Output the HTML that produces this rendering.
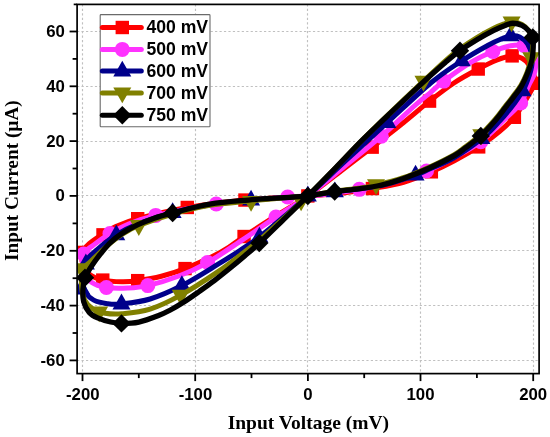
<!DOCTYPE html><html><head><meta charset="utf-8"><title>IV</title><style>html,body{margin:0;padding:0;background:#fff}svg{display:block}text{font-family:"Liberation Sans",sans-serif;font-weight:bold;fill:#000}.ser{font-family:"Liberation Serif",serif;font-weight:bold}</style></head><body>
<svg width="550" height="437" viewBox="0 0 550 437">
<rect width="550" height="437" fill="#fff"/>
<g stroke="#c0c0c0" stroke-width="1.15" stroke-dasharray="2.2,2.25" fill="none"><line x1="82.5" y1="4.4" x2="82.5" y2="373.6"/><line x1="195.5" y1="4.4" x2="195.5" y2="373.6"/><line x1="307.5" y1="4.4" x2="307.5" y2="373.6"/><line x1="420.5" y1="4.4" x2="420.5" y2="373.6"/><line x1="533.5" y1="4.4" x2="533.5" y2="373.6"/><line x1="77.1" y1="360.5" x2="539.1" y2="360.5"/><line x1="77.1" y1="305.5" x2="539.1" y2="305.5"/><line x1="77.1" y1="250.5" x2="539.1" y2="250.5"/><line x1="77.1" y1="195.5" x2="539.1" y2="195.5"/><line x1="77.1" y1="141.5" x2="539.1" y2="141.5"/><line x1="77.1" y1="86.5" x2="539.1" y2="86.5"/><line x1="77.1" y1="31.5" x2="539.1" y2="31.5"/></g>
<defs><clipPath id="cp"><rect x="77.1" y="4.4" width="462.0" height="369.2"/></clipPath></defs>
<g clip-path="url(#cp)">
<path d="M81.93,253.51 C80.99,257.21 82.21,262.28 83.62,265.85 C85.03,269.41 87.19,272.52 90.38,274.89 C93.57,277.27 97.51,278.96 102.77,280.10 C108.03,281.24 116.11,281.65 121.93,281.74 C127.75,281.83 131.13,281.56 137.70,280.65 C144.28,279.73 153.48,278.27 161.37,276.26 C169.25,274.25 176.20,272.06 185.03,268.59 C193.86,265.11 206.81,259.13 214.33,255.43 C221.84,251.73 225.14,249.54 230.10,246.38 C235.06,243.23 236.37,241.63 244.07,236.52 C251.77,231.40 265.67,222.45 276.30,215.69 C286.93,208.92 296.96,203.49 307.85,195.95 C318.74,188.41 330.93,178.59 341.65,170.46 C352.38,162.33 361.86,155.15 372.19,147.16 C382.52,139.17 394.07,130.17 403.63,122.49 C413.19,114.82 421.09,107.74 429.54,101.11 C438.00,94.49 446.22,88.09 454.33,82.75 C462.45,77.40 471.09,72.83 478.22,69.04 C485.36,65.25 491.50,62.19 497.15,60.00 C502.81,57.80 508.01,56.16 512.14,55.88 C516.27,55.61 519.18,56.94 521.94,58.35 C524.70,59.77 526.82,62.01 528.70,64.38 C530.58,66.76 532.21,70.09 533.21,72.60 C534.21,75.12 534.67,77.08 534.67,79.46 C534.67,81.83 534.30,84.12 533.21,86.86 C532.12,89.60 530.02,92.71 528.14,95.90 C526.26,99.10 524.23,102.48 521.94,106.05 C519.65,109.61 518.15,113.03 514.39,117.28 C510.64,121.53 504.72,127.06 499.41,131.54 C494.09,136.01 490.02,139.26 482.50,144.15 C474.99,149.03 462.86,156.25 454.33,160.87 C445.81,165.48 439.80,168.27 431.35,171.83 C422.90,175.39 413.45,179.46 403.63,182.24 C393.81,185.03 382.74,186.72 372.42,188.55 C362.09,190.38 352.41,191.98 341.65,193.21 C330.89,194.44 323.96,194.81 307.85,195.95 C291.74,197.09 265.07,198.14 244.97,200.06 C224.88,201.98 205.16,204.36 187.28,207.46 C169.40,210.57 149.53,215.54 137.70,218.70 C125.87,221.86 122.08,223.85 116.29,226.40 C110.51,228.96 107.50,231.15 103.00,234.02 C98.49,236.90 92.76,240.40 89.25,243.64 C85.74,246.89 82.87,249.81 81.93,253.51Z" fill="none" stroke="#ff0000" stroke-width="5.0" stroke-linejoin="round"/>
<rect x="365.49" y="140.46" width="13.40" height="13.40" fill="#ff0000"/>
<rect x="422.84" y="94.41" width="13.40" height="13.40" fill="#ff0000"/>
<rect x="471.52" y="62.34" width="13.40" height="13.40" fill="#ff0000"/>
<rect x="505.44" y="49.18" width="13.40" height="13.40" fill="#ff0000"/>
<rect x="527.97" y="76.59" width="13.40" height="13.40" fill="#ff0000"/>
<rect x="507.69" y="110.58" width="13.40" height="13.40" fill="#ff0000"/>
<rect x="471.97" y="140.19" width="13.40" height="13.40" fill="#ff0000"/>
<rect x="424.65" y="165.13" width="13.40" height="13.40" fill="#ff0000"/>
<rect x="365.72" y="181.85" width="13.40" height="13.40" fill="#ff0000"/>
<rect x="301.15" y="189.25" width="13.40" height="13.40" fill="#ff0000"/>
<rect x="238.27" y="193.36" width="13.40" height="13.40" fill="#ff0000"/>
<rect x="180.58" y="200.76" width="13.40" height="13.40" fill="#ff0000"/>
<rect x="131.00" y="212.00" width="13.40" height="13.40" fill="#ff0000"/>
<rect x="96.30" y="228.14" width="13.40" height="13.40" fill="#ff0000"/>
<rect x="74.66" y="245.71" width="13.40" height="13.40" fill="#ff0000"/>
<rect x="96.07" y="273.40" width="13.40" height="13.40" fill="#ff0000"/>
<rect x="131.00" y="273.95" width="13.40" height="13.40" fill="#ff0000"/>
<rect x="178.33" y="261.89" width="13.40" height="13.40" fill="#ff0000"/>
<rect x="237.37" y="229.82" width="13.40" height="13.40" fill="#ff0000"/>
<path d="M83.05,254.88 C81.46,259.29 82.77,266.76 84.18,271.33 C85.59,275.90 87.80,279.60 91.50,282.29 C95.20,284.99 100.37,286.54 106.38,287.50 C112.39,288.46 120.65,288.37 127.56,288.05 C134.47,287.73 139.39,287.55 147.84,285.58 C156.30,283.62 168.31,280.10 178.27,276.26 C188.22,272.42 196.86,268.63 207.56,262.56 C218.27,256.48 231.10,247.39 242.50,239.81 C253.90,232.22 265.07,224.37 275.96,217.06 C286.85,209.75 296.53,204.31 307.85,195.95 C319.17,187.59 331.66,176.85 343.91,166.90 C356.15,156.94 369.49,146.43 381.32,136.20 C393.15,125.96 406.61,112.85 414.90,105.50 C423.18,98.14 426.20,96.13 431.01,92.07 C435.82,88.00 437.04,86.08 443.74,81.10 C450.45,76.12 463.05,67.12 471.24,62.19 C479.42,57.26 486.30,54.24 492.87,51.50 C499.44,48.76 505.49,46.75 510.67,45.74 C515.86,44.74 520.59,44.78 523.97,45.47 C527.35,46.15 529.04,47.62 530.96,49.85 C532.87,52.09 534.66,56.25 535.46,58.90 C536.27,61.55 536.08,63.01 535.80,65.75 C535.52,68.49 535.03,71.92 533.77,75.35 C532.52,78.77 530.43,81.70 528.25,86.31 C526.07,90.92 524.76,97.41 520.70,103.03 C516.65,108.65 510.56,113.58 503.91,120.02 C497.27,126.47 489.45,135.28 480.81,141.68 C472.18,148.07 461.13,153.51 452.08,158.40 C443.03,163.29 436.46,167.03 426.50,171.01 C416.55,174.98 403.55,179.18 392.36,182.24 C381.17,185.31 369.67,187.45 359.34,189.37 C349.02,191.29 338.97,192.66 330.39,193.76 C321.80,194.85 314.97,195.40 307.85,195.95 C300.73,196.50 302.95,195.71 287.68,197.05 C272.41,198.38 238.23,200.89 216.24,203.95 C194.25,207.01 170.51,211.99 155.73,215.41 C140.95,218.83 135.19,221.44 127.56,224.46 C119.94,227.48 115.62,230.13 109.98,233.53 C104.35,236.93 98.25,241.29 93.76,244.85 C89.27,248.41 84.65,250.47 83.05,254.88Z" fill="none" stroke="#ff33ff" stroke-width="5.0" stroke-linejoin="round"/>
<circle cx="381.32" cy="136.20" r="7.5" fill="#ff33ff"/>
<circle cx="443.74" cy="81.10" r="7.5" fill="#ff33ff"/>
<circle cx="492.87" cy="51.50" r="7.5" fill="#ff33ff"/>
<circle cx="523.97" cy="45.47" r="7.5" fill="#ff33ff"/>
<circle cx="520.70" cy="103.03" r="7.5" fill="#ff33ff"/>
<circle cx="480.81" cy="141.68" r="7.5" fill="#ff33ff"/>
<circle cx="426.50" cy="171.01" r="7.5" fill="#ff33ff"/>
<circle cx="359.34" cy="189.37" r="7.5" fill="#ff33ff"/>
<circle cx="287.68" cy="197.05" r="7.5" fill="#ff33ff"/>
<circle cx="216.24" cy="203.95" r="7.5" fill="#ff33ff"/>
<circle cx="155.73" cy="215.41" r="7.5" fill="#ff33ff"/>
<circle cx="109.98" cy="233.53" r="7.5" fill="#ff33ff"/>
<circle cx="83.62" cy="254.06" r="7.5" fill="#ff33ff"/>
<circle cx="106.38" cy="287.50" r="7.5" fill="#ff33ff"/>
<circle cx="147.84" cy="285.58" r="7.5" fill="#ff33ff"/>
<circle cx="207.56" cy="262.56" r="7.5" fill="#ff33ff"/>
<circle cx="275.96" cy="217.06" r="7.5" fill="#ff33ff"/>
<path d="M84.18,263.10 C81.74,267.86 82.30,273.38 82.49,278.18 C82.68,282.98 83.43,288.23 85.31,291.88 C87.19,295.54 90.10,298.14 93.76,300.11 C97.42,302.07 102.66,303.03 107.28,303.67 C111.90,304.31 114.34,304.72 121.48,303.95 C128.61,303.17 140.03,302.07 150.10,299.01 C160.16,295.95 170.61,291.34 181.87,285.58 C193.14,279.82 207.98,270.37 217.71,264.48 C227.43,258.58 233.29,254.79 240.24,250.22 C247.19,245.65 251.89,242.82 259.40,237.06 C266.91,231.31 277.24,222.54 285.31,215.69 C293.39,208.83 297.52,205.36 307.85,195.95 C318.18,186.54 334.03,171.46 347.29,159.22 C360.55,146.98 373.45,135.24 387.40,122.49 C401.36,109.75 418.61,93.03 431.01,82.75 C443.40,72.47 452.25,67.08 461.77,60.82 C471.29,54.56 481.49,48.85 488.14,45.19 C494.79,41.54 497.90,40.44 501.66,38.89 C505.42,37.34 507.67,36.20 510.67,35.88 C513.68,35.56 516.87,35.65 519.69,36.97 C522.51,38.30 525.51,40.63 527.58,43.82 C529.64,47.02 531.43,52.28 532.08,56.16 C532.74,60.04 531.99,63.93 531.52,67.12 C531.05,70.32 530.34,72.15 529.27,75.35 C528.20,78.54 526.88,82.66 525.10,86.31 C523.31,89.96 520.87,93.76 518.56,97.27 C516.25,100.79 514.35,103.49 511.24,107.42 C508.12,111.34 504.46,115.91 499.86,120.85 C495.26,125.78 491.22,130.90 483.63,137.02 C476.04,143.14 463.35,152.23 454.33,157.58 C445.32,162.92 436.00,166.16 429.54,169.09 C423.08,172.01 423.65,172.38 415.57,175.12 C407.50,177.86 394.54,182.75 381.09,185.53 C367.65,188.32 347.10,190.10 334.89,191.84 C322.69,193.57 321.82,194.58 307.85,195.95 C293.88,197.32 267.40,198.60 251.06,200.06 C234.72,201.53 222.89,202.65 209.82,204.75 C196.75,206.85 184.47,209.52 172.63,212.67 C160.80,215.82 148.22,219.93 138.83,223.63 C129.44,227.34 123.24,230.56 116.29,234.90 C109.35,239.23 102.49,244.95 97.14,249.65 C91.79,254.35 86.62,258.35 84.18,263.10Z" fill="none" stroke="#00008b" stroke-width="5.0" stroke-linejoin="round"/>
<polygon points="387.40,112.14 378.40,127.94 396.40,127.94" fill="#00008b"/>
<polygon points="461.77,50.47 452.77,66.27 470.77,66.27" fill="#00008b"/>
<polygon points="510.67,25.53 501.67,41.33 519.67,41.33" fill="#00008b"/>
<polygon points="522.51,80.35 513.51,96.15 531.51,96.15" fill="#00008b"/>
<polygon points="481.38,128.31 472.38,144.11 490.38,144.11" fill="#00008b"/>
<polygon points="415.57,164.77 406.57,180.57 424.57,180.57" fill="#00008b"/>
<polygon points="334.89,181.49 325.89,197.29 343.89,197.29" fill="#00008b"/>
<polygon points="307.85,185.60 298.85,201.40 316.85,201.40" fill="#00008b"/>
<polygon points="251.06,189.71 242.06,205.51 260.06,205.51" fill="#00008b"/>
<polygon points="172.63,202.32 163.63,218.12 181.63,218.12" fill="#00008b"/>
<polygon points="116.29,224.55 107.29,240.35 125.29,240.35" fill="#00008b"/>
<polygon points="85.87,253.58 76.87,269.38 94.87,269.38" fill="#00008b"/>
<polygon points="81.36,278.80 72.36,294.60 90.36,294.60" fill="#00008b"/>
<polygon points="121.48,293.60 112.48,309.40 130.48,309.40" fill="#00008b"/>
<polygon points="181.87,275.23 172.87,291.03 190.87,291.03" fill="#00008b"/>
<polygon points="259.40,226.72 250.40,242.52 268.40,242.52" fill="#00008b"/>
<path d="M82.49,269.96 C81.03,274.07 81.21,281.38 81.59,286.40 C81.96,291.43 82.90,296.36 84.74,300.11 C86.58,303.85 89.25,306.69 92.63,308.88 C96.01,311.07 100.14,312.44 105.03,313.26 C109.91,314.09 114.42,314.50 121.93,313.81 C129.44,313.13 140.29,312.26 150.10,309.15 C159.90,306.05 169.48,301.39 180.75,295.17 C192.01,288.96 207.79,278.55 217.71,271.88 C227.62,265.21 233.11,260.59 240.24,255.16 C247.38,249.72 253.01,245.65 260.52,239.26 C268.04,232.86 277.43,224.00 285.31,216.78 C293.20,209.56 299.59,203.99 307.85,195.95 C316.11,187.91 326.07,177.63 334.89,168.54 C343.72,159.45 352.77,149.58 360.81,141.40 C368.85,133.23 372.68,129.53 383.12,119.48 C393.56,109.43 413.09,90.88 423.46,81.10 C433.83,71.33 439.23,66.21 445.32,60.82 C451.40,55.43 454.71,52.64 459.97,48.76 C465.23,44.88 471.24,40.95 476.87,37.52 C482.50,34.09 489.08,30.53 493.77,28.20 C498.47,25.87 502.04,24.64 505.04,23.54 C508.04,22.44 508.98,21.49 511.80,21.62 C514.62,21.76 519.12,22.86 521.94,24.36 C524.76,25.87 526.96,28.11 528.70,30.67 C530.45,33.23 531.80,36.61 532.42,39.71 C533.04,42.82 532.63,46.29 532.42,49.31 C532.21,52.32 532.06,54.01 531.18,57.80 C530.30,61.60 528.85,67.44 527.13,72.06 C525.40,76.67 523.26,81.33 520.82,85.49 C518.37,89.64 515.11,93.48 512.48,97.00 C509.85,100.52 507.95,102.85 505.04,106.59 C502.13,110.34 499.12,114.73 495.01,119.48 C490.90,124.23 485.34,130.53 480.36,135.10 C475.39,139.67 469.56,143.60 465.15,146.89 C460.74,150.18 459.89,151.45 453.88,154.83 C447.87,158.22 437.53,163.35 429.09,167.17 C420.66,170.98 412.14,174.73 403.29,177.72 C394.44,180.71 383.48,183.36 376.02,185.12 C368.57,186.88 365.45,187.25 358.56,188.28 C351.66,189.30 343.12,190.01 334.67,191.29 C326.22,192.57 317.01,194.81 307.85,195.95 C298.69,197.09 289.15,197.32 279.68,198.14 C270.21,198.97 262.70,199.69 251.06,200.88 C239.42,202.08 222.89,203.10 209.82,205.30 C196.75,207.49 184.47,210.66 172.63,214.04 C160.80,217.42 147.28,222.17 138.83,225.55 C130.38,228.94 126.62,231.46 121.93,234.35 C117.23,237.24 114.23,239.93 110.66,242.88 C107.09,245.82 103.90,248.86 100.52,252.00 C97.14,255.15 93.38,258.74 90.38,261.73 C87.37,264.73 83.95,265.85 82.49,269.96Z" fill="none" stroke="#808000" stroke-width="5.0" stroke-linejoin="round"/>
<polygon points="423.46,91.45 414.46,75.65 432.46,75.65" fill="#808000"/>
<polygon points="511.58,32.25 502.58,16.45 520.58,16.45" fill="#808000"/>
<polygon points="531.18,68.15 522.18,52.35 540.18,52.35" fill="#808000"/>
<polygon points="481.26,145.17 472.26,129.37 490.26,129.37" fill="#808000"/>
<polygon points="376.02,195.06 367.02,179.26 385.02,179.26" fill="#808000"/>
<polygon points="301.09,211.23 292.09,195.43 310.09,195.43" fill="#808000"/>
<polygon points="251.06,211.78 242.06,195.98 260.06,195.98" fill="#808000"/>
<polygon points="138.83,235.90 129.83,220.10 147.83,220.10" fill="#808000"/>
<polygon points="81.36,278.94 72.36,263.14 90.36,263.14" fill="#808000"/>
<polygon points="99.17,322.24 90.17,306.44 108.17,306.44" fill="#808000"/>
<polygon points="180.75,305.52 171.75,289.72 189.75,289.72" fill="#808000"/>
<path d="M84.97,277.63 C84.29,280.24 83.17,285.17 82.94,289.14 C82.72,293.12 82.57,297.60 83.62,301.48 C84.67,305.36 86.92,309.70 89.25,312.44 C91.58,315.18 94.02,316.33 97.59,317.92 C101.16,319.52 106.60,321.12 110.66,322.04 C114.72,322.95 117.23,323.41 121.93,323.41 C126.62,323.41 132.82,323.32 138.83,322.04 C144.84,320.76 152.73,317.74 157.99,315.73 C163.24,313.72 166.06,312.26 170.38,309.98 C174.70,307.69 179.06,305.13 183.90,302.03 C188.75,298.92 194.38,294.90 199.45,291.34 C204.52,287.77 209.25,284.48 214.33,280.65 C219.40,276.81 224.82,272.42 229.88,268.31 C234.93,264.20 239.73,260.18 244.64,255.98 C249.54,251.78 252.51,249.45 259.28,243.10 C266.06,236.75 277.22,225.74 285.31,217.88 C293.41,210.02 299.59,204.17 307.85,195.95 C316.11,187.73 325.99,177.68 334.89,168.54 C343.79,159.40 353.22,149.22 361.26,141.13 C369.30,133.04 373.77,128.93 383.12,120.02 C392.47,111.12 409.39,95.17 417.37,87.68 C425.36,80.19 426.35,79.27 431.01,75.07 C435.67,70.87 440.49,66.53 445.32,62.46 C450.15,58.40 454.71,54.47 459.97,50.68 C465.23,46.89 471.24,43.09 476.87,39.71 C482.50,36.33 489.08,32.77 493.77,30.39 C498.47,28.02 501.85,26.65 505.04,25.46 C508.23,24.27 510.11,23.27 512.93,23.27 C515.74,23.27 519.31,24.23 521.94,25.46 C524.57,26.69 526.90,28.57 528.70,30.67 C530.51,32.77 532.01,35.19 532.76,38.07 C533.51,40.95 533.34,44.33 533.21,47.94 C533.08,51.54 532.91,55.57 531.97,59.72 C531.03,63.88 529.36,68.45 527.58,72.88 C525.79,77.31 523.71,82.15 521.27,86.31 C518.82,90.47 515.56,94.30 512.93,97.82 C510.30,101.34 508.40,103.67 505.49,107.42 C502.58,111.16 499.58,115.55 495.46,120.30 C491.35,125.05 485.79,131.35 480.81,135.92 C475.84,140.49 470.02,144.42 465.60,147.71 C461.19,151.00 460.34,152.28 454.33,155.66 C448.32,159.04 438.00,164.20 429.54,167.99 C421.09,171.78 411.80,175.53 403.63,178.41 C395.46,181.29 388.04,183.52 380.53,185.26 C373.02,187.00 366.20,187.77 358.56,188.82 C350.91,189.87 343.12,190.38 334.67,191.56 C326.22,192.75 317.01,194.90 307.85,195.95 C298.69,197.00 289.56,197.18 279.68,197.87 C269.80,198.55 260.22,199.01 248.58,200.06 C236.94,201.11 222.48,202.03 209.82,204.17 C197.16,206.32 182.02,210.57 172.63,212.94 C163.24,215.32 159.26,216.46 153.48,218.43 C147.69,220.39 143.19,222.21 137.93,224.73 C132.67,227.25 126.57,230.51 121.93,233.53 C117.29,236.55 113.66,239.45 110.10,242.85 C106.53,246.25 103.43,250.31 100.52,253.92 C97.61,257.54 94.88,261.26 92.63,264.53 C90.38,267.80 88.27,271.34 87.00,273.52 C85.72,275.70 85.65,275.03 84.97,277.63Z" fill="none" stroke="#000000" stroke-width="5.3" stroke-linejoin="round"/>
<polygon points="84.97,268.43 94.17,277.63 84.97,286.83 75.77,277.63" fill="#000000"/>
<polygon points="121.48,314.21 130.68,323.41 121.48,332.61 112.28,323.41" fill="#000000"/>
<polygon points="172.63,203.74 181.83,212.94 172.63,222.14 163.43,212.94" fill="#000000"/>
<polygon points="259.28,233.90 268.48,243.10 259.28,252.30 250.08,243.10" fill="#000000"/>
<polygon points="307.85,186.75 317.05,195.95 307.85,205.15 298.65,195.95" fill="#000000"/>
<polygon points="334.67,182.36 343.87,191.56 334.67,200.76 325.47,191.56" fill="#000000"/>
<polygon points="459.97,41.48 469.17,50.68 459.97,59.88 450.77,50.68" fill="#000000"/>
<polygon points="480.81,126.72 490.01,135.92 480.81,145.12 471.61,135.92" fill="#000000"/>
<polygon points="532.76,28.32 541.96,37.52 532.76,46.72 523.56,37.52" fill="#000000"/>
</g>
<rect x="77.1" y="4.4" width="462.0" height="369.2" fill="none" stroke="#000" stroke-width="1.7"/><line x1="73.7" y1="4.4" x2="77.1" y2="4.4" stroke="#000" stroke-width="1.7"/>
<g stroke="#000" stroke-width="1.8"><line x1="82.5" y1="373.6" x2="82.5" y2="381.1"/><line x1="195.2" y1="373.6" x2="195.2" y2="381.1"/><line x1="307.9" y1="373.6" x2="307.9" y2="381.1"/><line x1="420.5" y1="373.6" x2="420.5" y2="381.1"/><line x1="533.2" y1="373.6" x2="533.2" y2="381.1"/><line x1="138.8" y1="373.6" x2="138.8" y2="378.1"/><line x1="251.5" y1="373.6" x2="251.5" y2="378.1"/><line x1="364.2" y1="373.6" x2="364.2" y2="378.1"/><line x1="476.9" y1="373.6" x2="476.9" y2="378.1"/><line x1="69.6" y1="360.4" x2="77.1" y2="360.4"/><line x1="69.6" y1="305.6" x2="77.1" y2="305.6"/><line x1="69.6" y1="250.8" x2="77.1" y2="250.8"/><line x1="69.6" y1="195.9" x2="77.1" y2="195.9"/><line x1="69.6" y1="141.1" x2="77.1" y2="141.1"/><line x1="69.6" y1="86.3" x2="77.1" y2="86.3"/><line x1="69.6" y1="31.5" x2="77.1" y2="31.5"/><line x1="72.6" y1="333.0" x2="77.1" y2="333.0"/><line x1="72.6" y1="278.2" x2="77.1" y2="278.2"/><line x1="72.6" y1="223.4" x2="77.1" y2="223.4"/><line x1="72.6" y1="168.5" x2="77.1" y2="168.5"/><line x1="72.6" y1="113.7" x2="77.1" y2="113.7"/><line x1="72.6" y1="58.9" x2="77.1" y2="58.9"/></g>
<text x="82.8" y="399.5" font-size="16.8" text-anchor="middle">-200</text>
<text x="195.5" y="399.5" font-size="16.8" text-anchor="middle">-100</text>
<text x="307.9" y="399.5" font-size="16.8" text-anchor="middle">0</text>
<text x="420.5" y="399.5" font-size="16.8" text-anchor="middle">100</text>
<text x="533.2" y="399.5" font-size="16.8" text-anchor="middle">200</text>
<text x="64.8" y="365.8" font-size="16.8" text-anchor="end">-60</text>
<text x="64.8" y="311.0" font-size="16.8" text-anchor="end">-40</text>
<text x="64.8" y="256.2" font-size="16.8" text-anchor="end">-20</text>
<text x="64.8" y="201.3" font-size="16.8" text-anchor="end">0</text>
<text x="64.8" y="146.5" font-size="16.8" text-anchor="end">20</text>
<text x="64.8" y="91.7" font-size="16.8" text-anchor="end">40</text>
<text x="64.8" y="36.9" font-size="16.8" text-anchor="end">60</text>
<text class="ser" x="308.4" y="429.3" font-size="19.5" text-anchor="middle">Input Voltage (mV)</text>
<text class="ser" transform="translate(18.4,180.6) rotate(-90)" font-size="19.3" text-anchor="middle">Input Current (µA)</text>
<rect x="100.2" y="14.6" width="109.8" height="112.2" rx="0.8" fill="#fff" stroke="#6a6a6a" stroke-width="1.1"/>
<line x1="102.3" y1="27.5" x2="141.3" y2="27.5" stroke="#ff0000" stroke-width="5" stroke-linecap="round"/>
<rect x="115.60" y="20.80" width="13.40" height="13.40" fill="#ff0000"/>
<text x="146.4" y="33.3" font-size="17.6">400 mV</text>
<line x1="102.3" y1="49.4" x2="141.3" y2="49.4" stroke="#ff33ff" stroke-width="5" stroke-linecap="round"/>
<circle cx="122.30" cy="49.40" r="7.5" fill="#ff33ff"/>
<text x="146.4" y="55.2" font-size="17.6">500 mV</text>
<line x1="102.3" y1="71.0" x2="141.3" y2="71.0" stroke="#00008b" stroke-width="5" stroke-linecap="round"/>
<polygon points="122.30,60.65 113.30,76.45 131.30,76.45" fill="#00008b"/>
<text x="146.4" y="76.8" font-size="17.6">600 mV</text>
<line x1="102.3" y1="92.9" x2="141.3" y2="92.9" stroke="#808000" stroke-width="5" stroke-linecap="round"/>
<polygon points="122.30,103.25 113.30,87.45 131.30,87.45" fill="#808000"/>
<text x="146.4" y="98.7" font-size="17.6">700 mV</text>
<line x1="102.3" y1="115.2" x2="141.3" y2="115.2" stroke="#000000" stroke-width="5" stroke-linecap="round"/>
<polygon points="122.30,106.00 131.50,115.20 122.30,124.40 113.10,115.20" fill="#000000"/>
<text x="146.4" y="121.0" font-size="17.6">750 mV</text>
</svg></body></html>
